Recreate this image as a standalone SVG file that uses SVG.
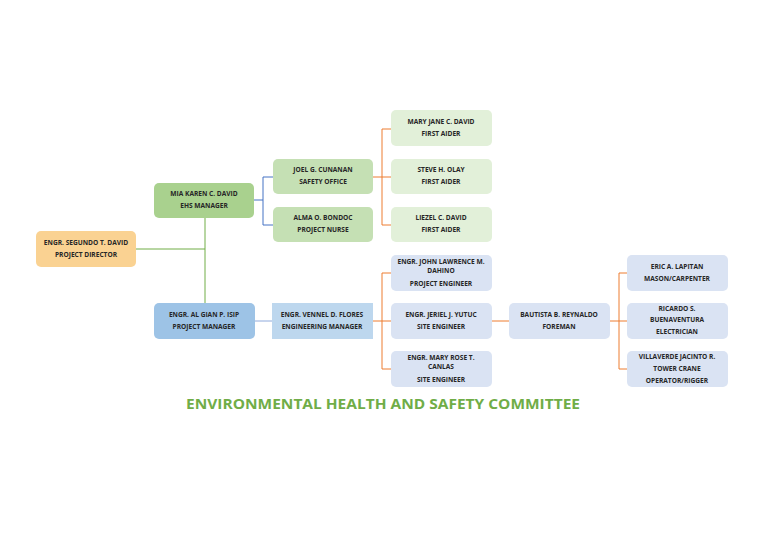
<svg xmlns="http://www.w3.org/2000/svg" width="768" height="543" viewBox="0 0 768 543">
<style>
text{font-family:"Open Sans","Liberation Sans",sans-serif;font-weight:bold;font-size:6.6px;fill:#262626;text-anchor:middle}
.title{font-size:15px;fill:#70AD47}
.c{fill:none;stroke-width:1}
.g{stroke:#70AD47}.b{stroke:#4472C4}.o{stroke:#ED7D31}.lb{stroke:#8FAADC}
</style>
<rect width="768" height="543" fill="#fff"/>
<g id="connectors">
<path class="c g" d="M205 218V303M136 249H205"/>
<path class="c b" d="M254 200H263M263 177V225M263 177H273M263 225H273"/>
<path class="c o" d="M373 177H382M382 129V225M382 129H391M382 177H391M382 225H391"/>
<path class="c lb" d="M255 321H272"/>
<path class="c o" d="M373 321H382M382 273V369M382 273H391M382 321H391M382 369H391"/>
<path class="c o" d="M492 321H509"/>
<path class="c o" d="M610 321H619M619 273V369M619 273H627M619 321H627M619 369H627"/>
</g>
<g id="pd"><rect x="36" y="231" width="100" height="36" rx="5" fill="#FAD292"/><text x="86" y="245">ENGR. SEGUNDO T. DAVID</text><text x="86" y="257">PROJECT DIRECTOR</text></g>
<g id="ehs"><rect x="154" y="183" width="100" height="35" rx="5" fill="#A9D18E"/><text x="204" y="196">MIA KAREN C. DAVID</text><text x="204" y="208">EHS MANAGER</text></g>
<g id="joel"><rect x="273" y="159" width="100" height="35" rx="5" fill="#C5E0B4"/><text x="323" y="172">JOEL G. CUNANAN</text><text x="323" y="184">SAFETY OFFICE</text></g>
<g id="alma"><rect x="273" y="207" width="100" height="35" rx="5" fill="#C5E0B4"/><text x="323" y="220">ALMA O. BONDOC</text><text x="323" y="232">PROJECT NURSE</text></g>
<g id="maryjane"><rect x="391" y="110" width="101" height="36" rx="5" fill="#E2F0D9"/><text x="441" y="124">MARY JANE C. DAVID</text><text x="441" y="136">FIRST AIDER</text></g>
<g id="steve"><rect x="391" y="159" width="101" height="35" rx="5" fill="#E2F0D9"/><text x="441" y="172">STEVE H. OLAY</text><text x="441" y="184">FIRST AIDER</text></g>
<g id="liezel"><rect x="391" y="207" width="101" height="35" rx="5" fill="#E2F0D9"/><text x="441" y="220">LIEZEL C. DAVID</text><text x="441" y="232">FIRST AIDER</text></g>
<g id="pm"><rect x="154" y="303" width="101" height="36" rx="5" fill="#9DC3E6"/><text x="204" y="317">ENGR. AL GIAN P. ISIP</text><text x="204" y="329">PROJECT MANAGER</text></g>
<g id="em"><rect x="272" y="303" width="101" height="36" fill="#BDD7EE"/><text x="322" y="317">ENGR. VENNEL D. FLORES</text><text x="322" y="329">ENGINEERING MANAGER</text></g>
<g id="pe"><rect x="391" y="255" width="101" height="36" rx="5" fill="#DAE3F3"/><text x="441" y="264">ENGR. JOHN LAWRENCE M.</text><text x="441" y="273">DAHINO</text><text x="441" y="286">PROJECT ENGINEER</text></g>
<g id="se1"><rect x="391" y="303" width="101" height="36" rx="5" fill="#DAE3F3"/><text x="441" y="317">ENGR. JERIEL J. YUTUC</text><text x="441" y="329">SITE ENGINEER</text></g>
<g id="se2"><rect x="391" y="351" width="101" height="36" rx="5" fill="#DAE3F3"/><text x="441" y="360">ENGR. MARY ROSE T.</text><text x="441" y="369">CANLAS</text><text x="441" y="382">SITE ENGINEER</text></g>
<g id="foreman"><rect x="509" y="303" width="101" height="36" rx="5" fill="#DAE3F3"/><text x="559" y="317">BAUTISTA B. REYNALDO</text><text x="559" y="329">FOREMAN</text></g>
<g id="eric"><rect x="627" y="255" width="101" height="36" rx="5" fill="#DAE3F3"/><text x="677" y="269">ERIC A. LAPITAN</text><text x="677" y="281">MASON/CARPENTER</text></g>
<g id="ricardo"><rect x="627" y="303" width="101" height="36" rx="5" fill="#DAE3F3"/><text x="677" y="311">RICARDO S.</text><text x="677" y="322">BUENAVENTURA</text><text x="677" y="334">ELECTRICIAN</text></g>
<g id="villaverde"><rect x="627" y="351" width="101" height="36" rx="5" fill="#DAE3F3"/><text x="677" y="359">VILLAVERDE JACINTO R.</text><text x="677" y="371">TOWER CRANE</text><text x="677" y="383">OPERATOR/RIGGER</text></g>
<text class="title" x="383" y="409" textLength="394" lengthAdjust="spacingAndGlyphs">ENVIRONMENTAL HEALTH AND SAFETY COMMITTEE</text>
</svg>
